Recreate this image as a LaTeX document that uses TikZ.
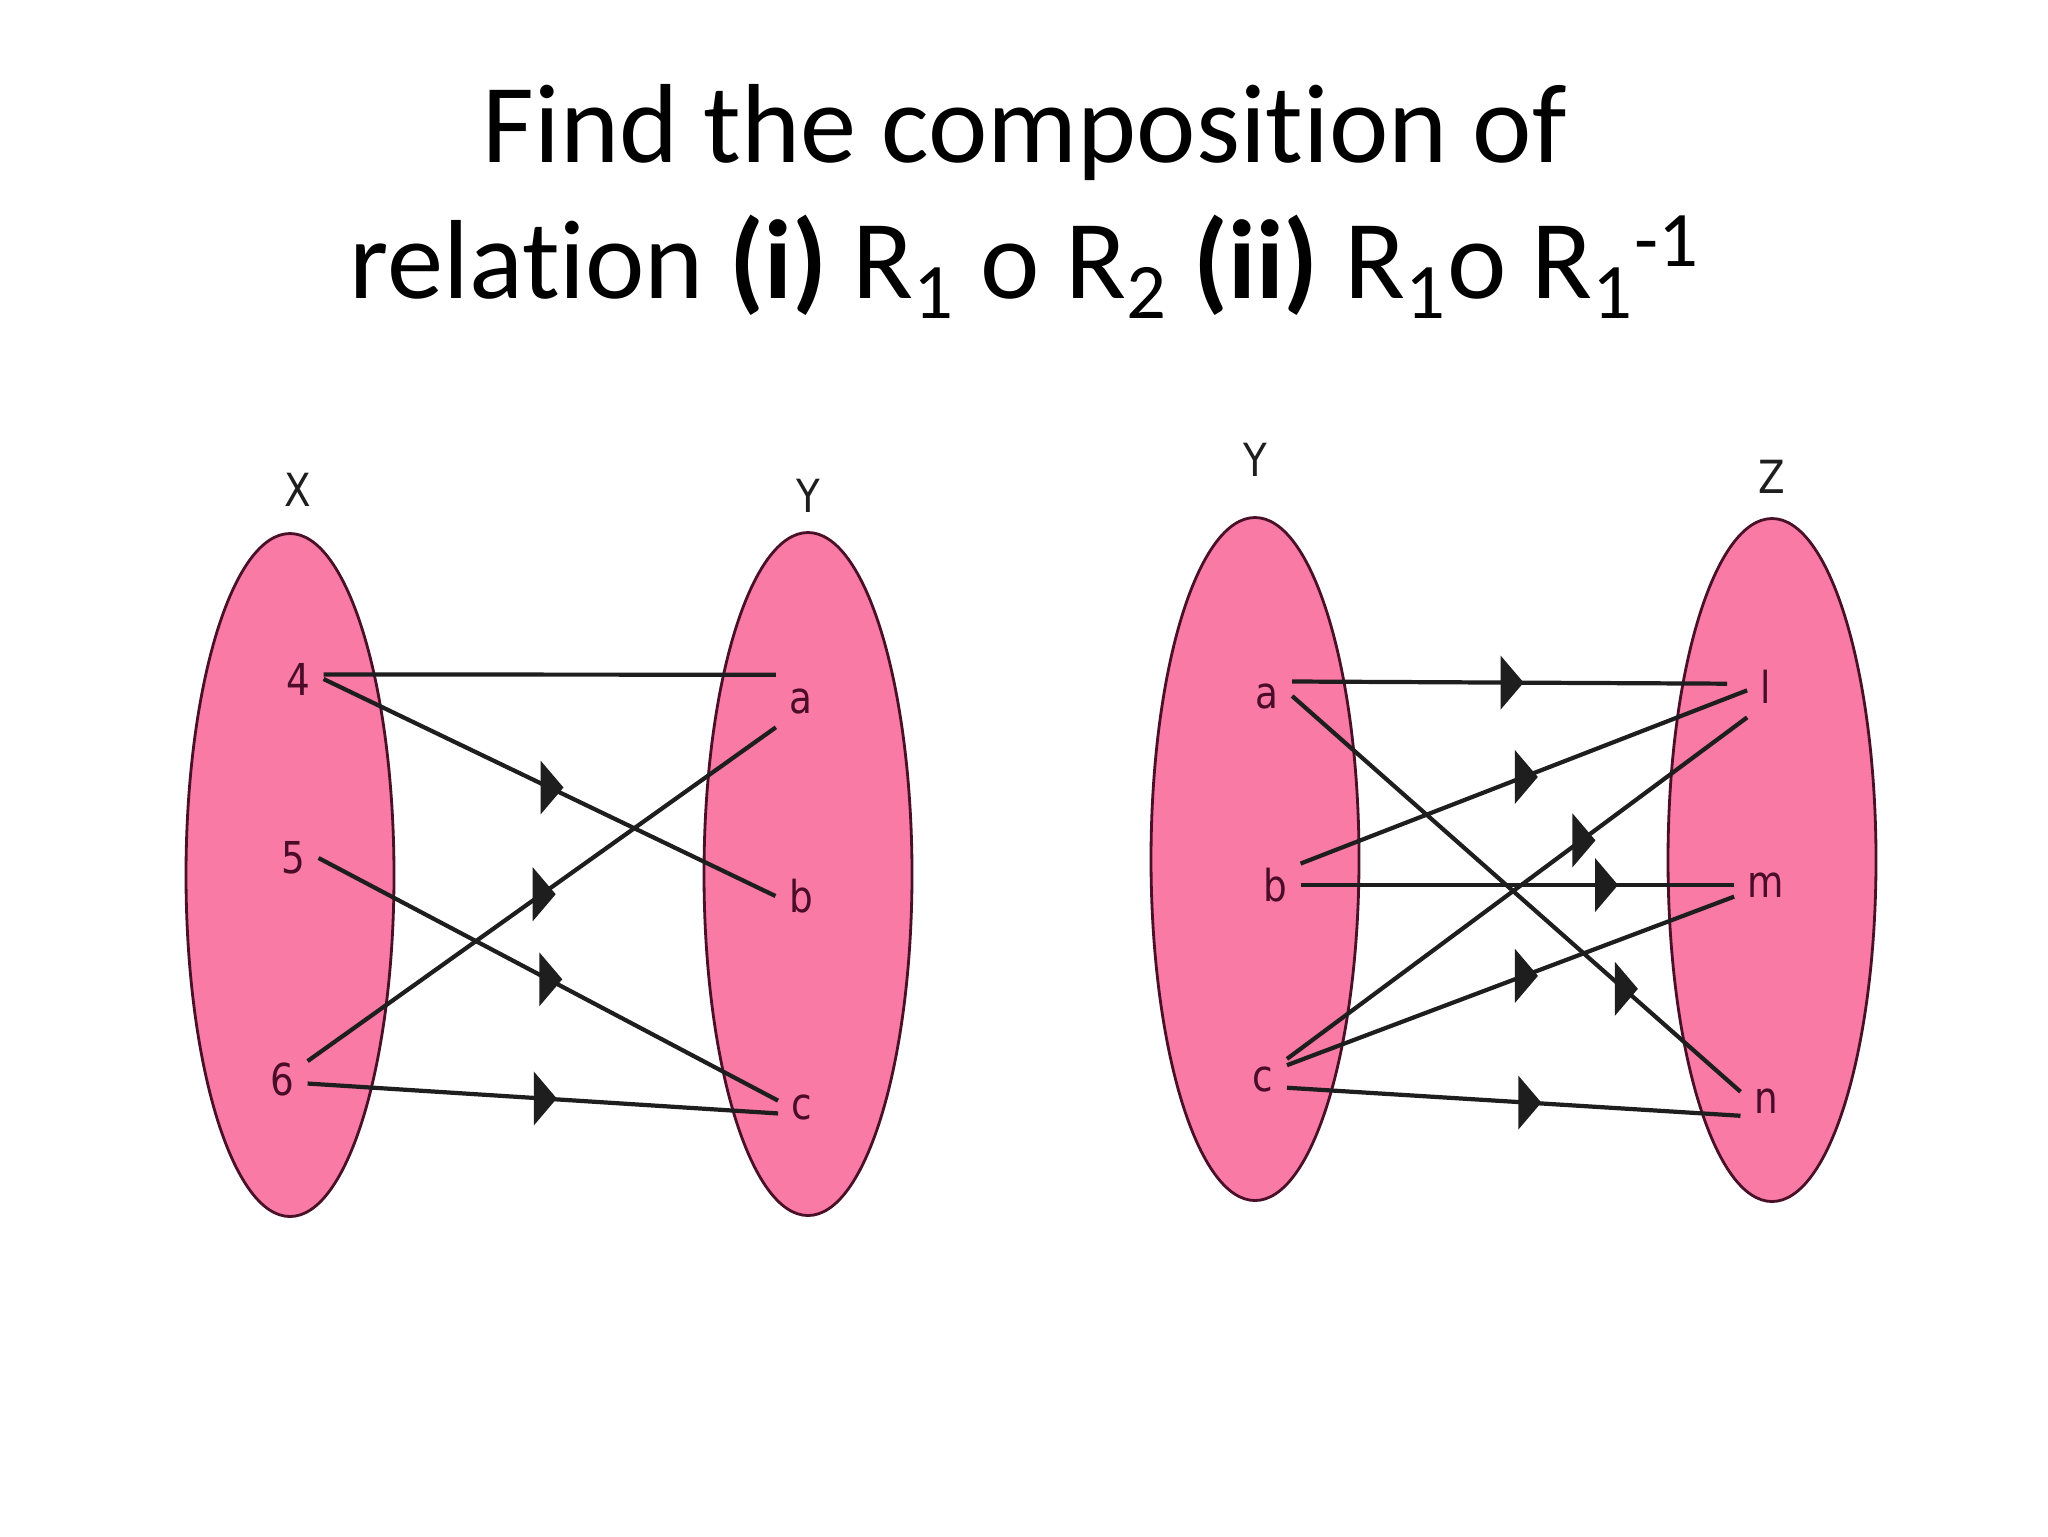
\documentclass[tikz,border=0pt]{standalone}
\usepackage{fontspec}
\setmainfont{Carlito}[Ligatures=NoCommon]
\newfontfamily\lblfont[FakeStretch=0.85]{DejaVu Sans}
\usetikzlibrary{shapes.geometric, decorations.markings}
\definecolor{setpink}{RGB}{248,122,165}
\definecolor{rim}{HTML}{4A1028}
\definecolor{ink}{HTML}{1E1E1E}
\definecolor{elem}{HTML}{4A0C28}
\tikzset{
  setshape/.style={ellipse, draw=rim, fill=setpink, line width=0.8pt, inner sep=0pt,
                   minimum width=20.8mm, minimum height=68.3mm},
  setname/.style={font=\lblfont\fontsize{13}{15}\selectfont, text=ink},
  elt/.style={font=\lblfont\fontsize{12.5}{15}\selectfont, text=elem, inner sep=1.3mm},
  link/.style={draw=ink, line width=1.2pt},
  rel/.style={link, postaction={decorate},
              decoration={markings, mark=at position #1 with
                {\pgftransformresetnontranslations \fill[ink] (14,0) -- (-9,27) -- (-9,-27) -- cycle;}}},
  rel/.default=0.5,
}
\begin{document}
\begin{tikzpicture}[x=0.1mm,y=-0.1mm]
\fill[white] (0,0) rectangle (2048,1536);
\useasboundingbox (0,0) rectangle (2048,1536);
% title
\node[anchor=base, font=\fontsize{32}{38}\selectfont] (title1) at (1025,162) {Find the composition of};
\node[anchor=base, font=\fontsize{32}{38}\selectfont] (title2) at (1025,298)
  {relation \textbf{(i)} R\textsubscript{1} o R\textsubscript{2} \textbf{(ii)} R\textsubscript{1}o R\textsubscript{1}\textsuperscript{-1}};
% R1 : X -> Y
\node[setshape] (setX) at (290,875) {};
\node[setshape] (setY1) at (808,874) {};
\node[setname] (nameX) at (298,490) {X};
\node[setname] (nameY1) at (808,496) {Y};
\node[elt] (x4) at (298,679) {4};
\node[elt] (x5) at (293,858) {5};
\node[elt] (x6) at (282,1079) {6};
\node[elt] (ya) at (801,701) {a};
\node[elt] (yb) at (801,896) {b};
\node[elt] (yc) at (802,1107) {c};
\draw[link] (x4.10) -- (ya.north west);
\draw[rel] (x4.east) -- (yb.west);
\draw[rel] (x6.35) -- (ya.south west);
\draw[rel] (x5.east) -- (yc.165);
\draw[rel] (x6.-10) -- (yc.195);
% R2 : Y -> Z
\node[setshape] (setY2) at (1255,859) {};
\node[setshape] (setZ) at (1772,860) {};
\node[setname] (nameY2) at (1255,460) {Y};
\node[setname] (nameZ) at (1772,477) {Z};
\node[elt] (qa) at (1267,696) {a};
\node[elt] (qb) at (1275,885) {b};
\node[elt] (qc) at (1263,1079) {c};
\node[elt] (zl) at (1766,687) {l};
\node[elt] (zm) at (1766,885) {m};
\node[elt] (zn) at (1766,1101) {n};
\draw[rel] (qa.30) -- ([xshift=-2mm]zl.170);
\draw[rel=0.74] (qa.east) -- (zn.160);
\draw[rel] (qb.40) -- (zl.190);
\draw[rel=0.7] (qb.east) -- (zm.west);
\draw[rel=0.64] (qc.40) -- (zl.south west);
\draw[rel=0.53] (qc.30) -- (zm.200);
\draw[rel=0.53] (qc.-20) -- (zn.210);
\end{tikzpicture}
\end{document}
